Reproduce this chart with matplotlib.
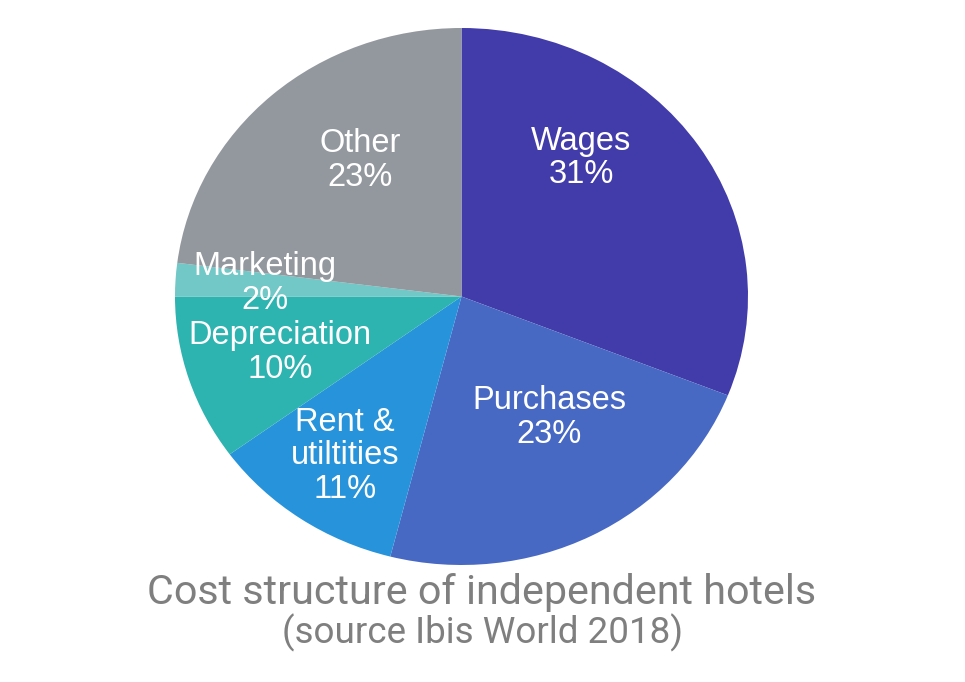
import matplotlib
matplotlib.use('Agg')
import matplotlib.pyplot as plt

# data
labels = ['Wages', 'Purchases', 'Rent &\nutiltities', 'Depreciation', 'Marketing', 'Other']
shares = [31, 23, 11, 10, 2, 23]
colors = ['#423BAA', '#4769C4', '#2793DB', '#2DB3B0', '#71C8C6', '#93989F']

# label centres in pie units (x/rx, y/ry)
label_pos = [(0.417, 0.516), (0.305, -0.452), (-0.407, -0.594),
             (-0.634, -0.210), (-0.686, 0.047), (-0.354, 0.505)]

W, H = 965, 682
fig = plt.figure(figsize=(W / 100, H / 100), dpi=100)

# pie is slightly stretched horizontally in the reference
cx, cy, rx, ry = 461.5, 296.5, 286.5, 268.5
ax = fig.add_axes([(cx - rx) / W, (H - cy - ry) / H, 2 * rx / W, 2 * ry / H])
ax.pie(shares, colors=colors, startangle=90, counterclock=False,
       radius=1, frame=False, wedgeprops=dict(linewidth=0))
ax.set_aspect('auto')
ax.set_xlim(-1, 1)
ax.set_ylim(-1, 1)
ax.axis('off')

for lab, val, (x, y) in zip(labels, shares, label_pos):
    ax.text(x, y, f'{lab}\n{val}%', ha='center', va='center', color='white',
            fontsize=23.5, family='Liberation Sans', linespacing=1.12)

fig.text(481.5 / W, 1 - 592 / H, 'Cost structure of independent hotels',
         ha='center', va='center', color='#7F7F7F', fontsize=29.7, family='Roboto')
fig.text(483 / W, 1 - 633 / H, '(source Ibis World 2018)',
         ha='center', va='center', color='#7F7F7F', fontsize=26.5, family='Roboto')

fig.savefig('out.png', dpi=100, facecolor='white')
